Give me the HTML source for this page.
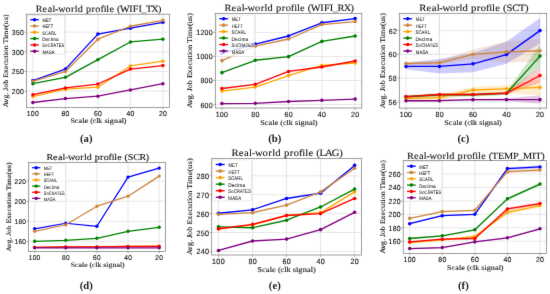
<!DOCTYPE html>
<html><head><meta charset="utf-8"><title>Real-world profiles</title>
<style>
html,body{margin:0;padding:0;background:#fff;}
body{width:550px;height:294px;overflow:hidden;}
svg{display:block;text-rendering:geometricPrecision;}
.s{font-family:"Liberation Serif",serif;fill:#111;stroke:#111;stroke-width:0.1px;}
.t{font-family:"Liberation Sans",sans-serif;fill:#111;stroke:#111;stroke-width:0.12px;}
.l{font-family:"Liberation Sans",sans-serif;fill:#111;stroke:#444;stroke-width:0.06px;}
.c{font-family:"Liberation Serif",serif;font-weight:bold;fill:#1a1a1a;}
</style></head><body>
<svg width="550" height="294" viewBox="0 0 550 294">
<defs><filter id="soft" x="0" y="0" width="550" height="294" filterUnits="userSpaceOnUse" color-interpolation-filters="sRGB"><feConvolveMatrix order="3" kernelMatrix="0.00524 0.06192 0.00524 0.06192 0.73137 0.06192 0.00524 0.06192 0.00524" edgeMode="duplicate"/></filter></defs><g filter="url(#soft)">
<rect width="550" height="294" fill="#fff"/>
<path d="M32.9 14.2V107.4M65.4 14.2V107.4M97.9 14.2V107.4M130.4 14.2V107.4M162.9 14.2V107.4M26.4 91.1H169.4M26.4 71.45H169.4M26.4 51.8H169.4M26.4 32.15H169.4" stroke="#e0e0e0" stroke-width="0.8" fill="none"/>
<path d="M32.9 80.49 L65.4 69.09 L97.9 34.11 L130.4 28.22 L162.9 22.32" stroke="#0000ff" stroke-width="1.3" fill="none" stroke-linejoin="round"/>
<circle cx="32.9" cy="80.49" r="1.75" fill="#0000ff"/><circle cx="65.4" cy="69.09" r="1.75" fill="#0000ff"/><circle cx="97.9" cy="34.11" r="1.75" fill="#0000ff"/><circle cx="130.4" cy="28.22" r="1.75" fill="#0000ff"/><circle cx="162.9" cy="22.32" r="1.75" fill="#0000ff"/>
<path d="M32.9 81.27 L65.4 71.45 L97.9 39.22 L130.4 26.25 L162.9 20.36" stroke="#cd853f" stroke-width="1.3" fill="none" stroke-linejoin="round"/>
<circle cx="32.9" cy="81.27" r="1.75" fill="#cd853f"/><circle cx="65.4" cy="71.45" r="1.75" fill="#cd853f"/><circle cx="97.9" cy="39.22" r="1.75" fill="#cd853f"/><circle cx="130.4" cy="26.25" r="1.75" fill="#cd853f"/><circle cx="162.9" cy="20.36" r="1.75" fill="#cd853f"/>
<path d="M32.9 96.6 L65.4 89.13 L97.9 87.17 L130.4 65.95 L162.9 61.23" stroke="#ffa500" stroke-width="1.3" fill="none" stroke-linejoin="round"/>
<circle cx="32.9" cy="96.6" r="1.75" fill="#ffa500"/><circle cx="65.4" cy="89.13" r="1.75" fill="#ffa500"/><circle cx="97.9" cy="87.17" r="1.75" fill="#ffa500"/><circle cx="130.4" cy="65.95" r="1.75" fill="#ffa500"/><circle cx="162.9" cy="61.23" r="1.75" fill="#ffa500"/>
<path d="M32.9 83.63 L65.4 77.34 L97.9 59.66 L130.4 41.97 L162.9 39.22" stroke="#008000" stroke-width="1.3" fill="none" stroke-linejoin="round"/>
<circle cx="32.9" cy="83.63" r="1.75" fill="#008000"/><circle cx="65.4" cy="77.34" r="1.75" fill="#008000"/><circle cx="97.9" cy="59.66" r="1.75" fill="#008000"/><circle cx="130.4" cy="41.97" r="1.75" fill="#008000"/><circle cx="162.9" cy="39.22" r="1.75" fill="#008000"/>
<path d="M32.9 94.64 L65.4 87.96 L97.9 84.03 L130.4 69.09 L162.9 65.55" stroke="#ff0000" stroke-width="1.3" fill="none" stroke-linejoin="round"/>
<circle cx="32.9" cy="94.64" r="1.75" fill="#ff0000"/><circle cx="65.4" cy="87.96" r="1.75" fill="#ff0000"/><circle cx="97.9" cy="84.03" r="1.75" fill="#ff0000"/><circle cx="130.4" cy="69.09" r="1.75" fill="#ff0000"/><circle cx="162.9" cy="65.55" r="1.75" fill="#ff0000"/>
<path d="M32.9 102.5 L65.4 98.57 L97.9 96.21 L130.4 89.92 L162.9 83.63" stroke="#800080" stroke-width="1.3" fill="none" stroke-linejoin="round"/>
<circle cx="32.9" cy="102.5" r="1.75" fill="#800080"/><circle cx="65.4" cy="98.57" r="1.75" fill="#800080"/><circle cx="97.9" cy="96.21" r="1.75" fill="#800080"/><circle cx="130.4" cy="89.92" r="1.75" fill="#800080"/><circle cx="162.9" cy="83.63" r="1.75" fill="#800080"/>
<rect x="26.4" y="14.2" width="143" height="93.2" fill="none" stroke="#777" stroke-width="0.7"/>
<path d="M32.9 107.4v1.88M65.4 107.4v1.88M97.9 107.4v1.88M130.4 107.4v1.88M162.9 107.4v1.88M26.4 91.1h-1.88M26.4 71.45h-1.88M26.4 51.8h-1.88M26.4 32.15h-1.88" stroke="#777" stroke-width="0.6" fill="none"/>
<text transform="translate(26.61 115.79) scale(0.933 1)" x="0.15 4.54 8.93" y="0" font-size="7.34" class="t">100</text>
<text transform="translate(61.3 115.79) scale(0.933 1)" x="0.15 4.54" y="0" font-size="7.34" class="t">80</text>
<text transform="translate(93.79 115.79) scale(0.933 1)" x="0.15 4.54" y="0" font-size="7.34" class="t">60</text>
<text transform="translate(126.36 115.79) scale(0.933 1)" x="0.15 4.54" y="0" font-size="7.34" class="t">40</text>
<text transform="translate(158.78 115.79) scale(0.933 1)" x="0.15 4.54" y="0" font-size="7.34" class="t">20</text>
<text transform="translate(11.74 94.05) scale(0.933 1)" x="0.15 4.54 8.93" y="0" font-size="7.34" class="t">200</text>
<text transform="translate(11.74 74.4) scale(0.933 1)" x="0.15 4.54 8.93" y="0" font-size="7.34" class="t">250</text>
<text transform="translate(11.74 54.75) scale(0.933 1)" x="0.15 4.54 8.93" y="0" font-size="7.34" class="t">300</text>
<text transform="translate(11.74 35.1) scale(0.933 1)" x="0.15 4.54 8.93" y="0" font-size="7.34" class="t">350</text>
<text transform="translate(35.83 11.8) scale(1.078 1)" x="-0.15 6.26 10.99 15.42 17.78 20.69 27.55 32.64 36.07 38.85 43.84 46.48 51.72 55.23 59.89 62.9 65.44 68.29 72.83 75.25 78.02 86.57 89.85 95.24 98.01 102.14 107.1 113.33" y="0" font-size="9.45" class="s">Real-world profile (WIFI_TX)</text>
<text transform="translate(70.46 123.1) scale(1.138 1)" x="-0.03 3.89 7.16 10.34 12.34 15.6 17.31 19.6 22.68 24.51 28.01 29.87 32.63 34.56 38.19 41.9 45.08 46.89" y="0" font-size="7.08" class="s">Scale (clk signal)</text>
<g transform="translate(7.92 60.8) rotate(-90)"><text transform="translate(-45.85 0) scale(1.101 1)" x="-0.45 3.87 7.4 11.08 12.94 14.55 17.1 20.73 24.42 26.21 30.38 33.96 37.33 40.66 44.51 46.62 48.53 52.17 55.87 57.48 61.54 63.48 69.17 72.44 74.87 78.65 81.49" y="0" font-size="7.08" class="s">Avg. Job Execution Time(us)</text></g>
<text x="86.3" y="141.6" font-size="10.7" text-anchor="middle" class="c">(a)</text>
<rect x="27.4" y="15.7" width="37" height="38.4" rx="0.8" fill="#fff" fill-opacity="0.8" stroke="#d6d6d6" stroke-width="0.5"/>
<path d="M30.26 19.7H38.85" stroke="#0000ff" stroke-width="1.3"/>
<circle cx="34.56" cy="19.7" r="1.75" fill="#0000ff"/>
<text transform="translate(42.29 22.16) scale(0.811 1)" x="0.17 4.55 7.98" y="0" font-size="5.07" class="l">MET</text>
<path d="M30.26 26H38.85" stroke="#cd853f" stroke-width="1.3"/>
<circle cx="34.56" cy="26" r="1.75" fill="#cd853f"/>
<text transform="translate(42.29 28.46) scale(0.795 1)" x="0.2 4.08 7.48 10.58" y="0" font-size="5.07" class="l">HEFT</text>
<path d="M30.26 32.3H38.85" stroke="#ffa500" stroke-width="1.3"/>
<circle cx="34.56" cy="32.3" r="1.75" fill="#ffa500"/>
<text transform="translate(42.29 34.76) scale(0.798 1)" x="0.02 3.47 7.33 10.9 14.69" y="0" font-size="5.07" class="l">SCARL</text>
<path d="M30.26 38.6H38.85" stroke="#008000" stroke-width="1.3"/>
<circle cx="34.56" cy="38.6" r="1.75" fill="#008000"/>
<text transform="translate(42.29 41.06) scale(0.912 1)" x="-0.02 3.66 6.55 9.2 10.6 15.04" y="0" font-size="5.07" class="l">Decima</text>
<path d="M30.26 44.9H38.85" stroke="#ff0000" stroke-width="1.3"/>
<circle cx="34.56" cy="44.9" r="1.75" fill="#ff0000"/>
<text transform="translate(42.29 47.36) scale(0.783 1)" x="0.05 3.75 6.92 10.73 14.43 17.7 20.96 24.43" y="0" font-size="5.07" class="l">SoCRATES</text>
<path d="M30.26 51.2H38.85" stroke="#800080" stroke-width="1.3"/>
<circle cx="34.56" cy="51.2" r="1.75" fill="#800080"/>
<text transform="translate(42.29 53.66) scale(0.828 1)" x="0.13 4.56 7.98 11.49" y="0" font-size="5.07" class="l">MASA</text>
<path d="M221.96 13.4V108M255.25 13.4V108M288.55 13.4V108M321.85 13.4V108M355.14 13.4V108M215.3 104.5H361.8M215.3 80.46H361.8M215.3 56.42H361.8M215.3 32.38H361.8" stroke="#e0e0e0" stroke-width="0.8" fill="none"/>
<path d="M221.96 53.41 L255.25 44.04 L288.55 35.99 L321.85 22.76 L355.14 18.56" stroke="#0000ff" stroke-width="1.33" fill="none" stroke-linejoin="round"/>
<circle cx="221.96" cy="53.41" r="1.79" fill="#0000ff"/><circle cx="255.25" cy="44.04" r="1.79" fill="#0000ff"/><circle cx="288.55" cy="35.99" r="1.79" fill="#0000ff"/><circle cx="321.85" cy="22.76" r="1.79" fill="#0000ff"/><circle cx="355.14" cy="18.56" r="1.79" fill="#0000ff"/>
<path d="M221.96 60.63 L255.25 46.2 L288.55 38.99 L321.85 24.57 L355.14 21.56" stroke="#cd853f" stroke-width="1.33" fill="none" stroke-linejoin="round"/>
<circle cx="221.96" cy="60.63" r="1.79" fill="#cd853f"/><circle cx="255.25" cy="46.2" r="1.79" fill="#cd853f"/><circle cx="288.55" cy="38.99" r="1.79" fill="#cd853f"/><circle cx="321.85" cy="24.57" r="1.79" fill="#cd853f"/><circle cx="355.14" cy="21.56" r="1.79" fill="#cd853f"/>
<path d="M221.96 91.04 L255.25 87.07 L288.55 75.65 L321.85 65.44 L355.14 63.03" stroke="#ffa500" stroke-width="1.33" fill="none" stroke-linejoin="round"/>
<circle cx="221.96" cy="91.04" r="1.79" fill="#ffa500"/><circle cx="255.25" cy="87.07" r="1.79" fill="#ffa500"/><circle cx="288.55" cy="75.65" r="1.79" fill="#ffa500"/><circle cx="321.85" cy="65.44" r="1.79" fill="#ffa500"/><circle cx="355.14" cy="63.03" r="1.79" fill="#ffa500"/>
<path d="M221.96 72.65 L255.25 60.27 L288.55 56.66 L321.85 41.39 L355.14 35.99" stroke="#008000" stroke-width="1.33" fill="none" stroke-linejoin="round"/>
<circle cx="221.96" cy="72.65" r="1.79" fill="#008000"/><circle cx="255.25" cy="60.27" r="1.79" fill="#008000"/><circle cx="288.55" cy="56.66" r="1.79" fill="#008000"/><circle cx="321.85" cy="41.39" r="1.79" fill="#008000"/><circle cx="355.14" cy="35.99" r="1.79" fill="#008000"/>
<path d="M221.96 88.51 L255.25 84.31 L288.55 71.44 L321.85 67 L355.14 60.99" stroke="#ff0000" stroke-width="1.33" fill="none" stroke-linejoin="round"/>
<circle cx="221.96" cy="88.51" r="1.79" fill="#ff0000"/><circle cx="255.25" cy="84.31" r="1.79" fill="#ff0000"/><circle cx="288.55" cy="71.44" r="1.79" fill="#ff0000"/><circle cx="321.85" cy="67" r="1.79" fill="#ff0000"/><circle cx="355.14" cy="60.99" r="1.79" fill="#ff0000"/>
<path d="M221.96 103.54 L255.25 103.3 L288.55 101.5 L321.85 100.29 L355.14 99.09" stroke="#800080" stroke-width="1.33" fill="none" stroke-linejoin="round"/>
<circle cx="221.96" cy="103.54" r="1.79" fill="#800080"/><circle cx="255.25" cy="103.3" r="1.79" fill="#800080"/><circle cx="288.55" cy="101.5" r="1.79" fill="#800080"/><circle cx="321.85" cy="100.29" r="1.79" fill="#800080"/><circle cx="355.14" cy="99.09" r="1.79" fill="#800080"/>
<rect x="215.3" y="13.4" width="146.5" height="94.6" fill="none" stroke="#777" stroke-width="0.7"/>
<path d="M221.96 108v1.92M255.25 108v1.92M288.55 108v1.92M321.85 108v1.92M355.14 108v1.92M215.3 104.5h-1.92M215.3 80.46h-1.92M215.3 56.42h-1.92M215.3 32.38h-1.92" stroke="#777" stroke-width="0.6" fill="none"/>
<text transform="translate(215.53 116.59) scale(0.933 1)" x="0.16 4.65 9.14" y="0" font-size="7.51" class="t">100</text>
<text transform="translate(251.06 116.59) scale(0.933 1)" x="0.16 4.65" y="0" font-size="7.51" class="t">80</text>
<text transform="translate(284.35 116.59) scale(0.933 1)" x="0.16 4.65" y="0" font-size="7.51" class="t">60</text>
<text transform="translate(317.71 116.59) scale(0.933 1)" x="0.16 4.65" y="0" font-size="7.51" class="t">40</text>
<text transform="translate(350.93 116.59) scale(0.933 1)" x="0.16 4.65" y="0" font-size="7.51" class="t">20</text>
<text transform="translate(200.29 107.5) scale(0.933 1)" x="0.16 4.65 9.14" y="0" font-size="7.51" class="t">600</text>
<text transform="translate(200.29 83.46) scale(0.933 1)" x="0.16 4.65 9.14" y="0" font-size="7.51" class="t">800</text>
<text transform="translate(196.1 59.42) scale(0.933 1)" x="0.16 4.65 9.14 13.64" y="0" font-size="7.51" class="t">1000</text>
<text transform="translate(196.1 35.38) scale(0.933 1)" x="0.16 4.65 9.14 13.64" y="0" font-size="7.51" class="t">1200</text>
<text transform="translate(224.72 10.5) scale(1.080 1)" x="-0.16 6.39 11.22 15.75 18.16 21.14 28.15 33.35 36.86 39.7 44.8 47.49 52.85 56.44 61.2 64.28 66.88 69.79 74.42 76.9 79.72 88.46 91.82 97.33 100.16 104.45 110.15 116.51" y="0" font-size="9.67" class="s">Real-world profile (WIFI_RX)</text>
<text transform="translate(260.21 124.5) scale(1.138 1)" x="-0.03 3.98 7.33 10.58 12.62 15.96 17.71 20.06 23.21 25.09 28.67 30.57 33.39 35.36 39.08 42.87 46.13 47.98" y="0" font-size="7.25" class="s">Scale (clk signal)</text>
<g transform="translate(192.2 60.7) rotate(-90)"><text transform="translate(-46.92 0) scale(1.101 1)" x="-0.46 3.96 7.57 11.34 13.25 14.89 17.49 21.21 24.99 26.82 31.09 34.76 38.2 41.61 45.54 47.7 49.66 53.39 57.17 58.81 62.98 64.96 70.78 74.12 76.61 80.48 83.39" y="0" font-size="7.25" class="s">Avg. Job Execution Time(us)</text></g>
<text x="274.8" y="141.6" font-size="10.7" text-anchor="middle" class="c">(b)</text>
<rect x="216.4" y="15.2" width="37.9" height="41.3" rx="0.8" fill="#fff" fill-opacity="0.8" stroke="#d6d6d6" stroke-width="0.5"/>
<path d="M219.25 18.7H228.04" stroke="#0000ff" stroke-width="1.33"/>
<circle cx="223.65" cy="18.7" r="1.79" fill="#0000ff"/>
<text transform="translate(231.56 21.2) scale(0.811 1)" x="0.18 4.65 8.16" y="0" font-size="5.18" class="l">MET</text>
<path d="M219.25 25.16H228.04" stroke="#cd853f" stroke-width="1.33"/>
<circle cx="223.65" cy="25.16" r="1.79" fill="#cd853f"/>
<text transform="translate(231.56 27.66) scale(0.795 1)" x="0.21 4.17 7.65 10.83" y="0" font-size="5.18" class="l">HEFT</text>
<path d="M219.25 31.62H228.04" stroke="#ffa500" stroke-width="1.33"/>
<circle cx="223.65" cy="31.62" r="1.79" fill="#ffa500"/>
<text transform="translate(231.56 34.12) scale(0.798 1)" x="0.02 3.55 7.5 11.15 15.03" y="0" font-size="5.18" class="l">SCARL</text>
<path d="M219.25 38.08H228.04" stroke="#008000" stroke-width="1.33"/>
<circle cx="223.65" cy="38.08" r="1.79" fill="#008000"/>
<text transform="translate(231.56 40.58) scale(0.912 1)" x="-0.02 3.75 6.7 9.41 10.85 15.39" y="0" font-size="5.18" class="l">Decima</text>
<path d="M219.25 44.54H228.04" stroke="#ff0000" stroke-width="1.33"/>
<circle cx="223.65" cy="44.54" r="1.79" fill="#ff0000"/>
<text transform="translate(231.56 47.04) scale(0.783 1)" x="0.05 3.83 7.08 10.98 14.77 18.11 21.45 25" y="0" font-size="5.18" class="l">SoCRATES</text>
<path d="M219.25 51H228.04" stroke="#800080" stroke-width="1.33"/>
<circle cx="223.65" cy="51" r="1.79" fill="#800080"/>
<text transform="translate(231.56 53.5) scale(0.828 1)" x="0.13 4.66 8.16 11.76" y="0" font-size="5.18" class="l">MASA</text>
<path d="M406 13.3V108.1M439.5 13.3V108.1M473 13.3V108.1M506.5 13.3V108.1M540 13.3V108.1M399.3 101.9H546.7M399.3 78.1H546.7M399.3 54.3H546.7M399.3 30.5H546.7" stroke="#e0e0e0" stroke-width="0.8" fill="none"/>
<path d="M406 62.63 L439.5 59.06 L473 53.11 L506.5 41.69 L540 17.89 L540 43.59 L506.5 63.82 L473 72.15 L439.5 73.46 L406 69.29Z" fill="#0000ff" fill-opacity="0.2"/>
<path d="M406 62.03 L439.5 60.25 L473 49.54 L506.5 41.21 L540 38.83 L540 61.44 L506.5 62.63 L473 59.06 L439.5 65.01 L406 65.01Z" fill="#cd853f" fill-opacity="0.2"/>
<path d="M406 96.54 L439.5 94.17 L473 87.03 L506.5 85.24 L540 79.29 L540 94.76 L506.5 93.57 L473 93.57 L439.5 100.71 L406 100.12Z" fill="#ffa500" fill-opacity="0.2"/>
<path d="M406 95.36 L439.5 92.98 L473 92.98 L506.5 91.78 L540 44.78 L540 67.39 L506.5 94.76 L473 96.54 L439.5 96.54 L406 98.33Z" fill="#008000" fill-opacity="0.2"/>
<path d="M406 95.95 L439.5 93.57 L473 93.57 L506.5 91.78 L540 67.39 L540 82.86 L506.5 94.76 L473 95.95 L439.5 95.95 L406 98.33Z" fill="#ff0000" fill-opacity="0.2"/>
<path d="M406 100.12 L439.5 100.12 L473 98.93 L506.5 98.33 L540 95.36 L540 103.68 L506.5 100.71 L473 100.71 L439.5 101.31 L406 101.31Z" fill="#800080" fill-opacity="0.2"/>
<path d="M406 66.44 L439.5 66.44 L473 63.82 L506.5 54.54 L540 30.62" stroke="#0000ff" stroke-width="1.33" fill="none" stroke-linejoin="round"/>
<circle cx="406" cy="66.44" r="1.8" fill="#0000ff"/><circle cx="439.5" cy="66.44" r="1.8" fill="#0000ff"/><circle cx="473" cy="63.82" r="1.8" fill="#0000ff"/><circle cx="506.5" cy="54.54" r="1.8" fill="#0000ff"/><circle cx="540" cy="30.62" r="1.8" fill="#0000ff"/>
<path d="M406 63.58 L439.5 62.75 L473 54.3 L506.5 51.92 L540 50.73" stroke="#cd853f" stroke-width="1.33" fill="none" stroke-linejoin="round"/>
<circle cx="406" cy="63.58" r="1.8" fill="#cd853f"/><circle cx="439.5" cy="62.75" r="1.8" fill="#cd853f"/><circle cx="473" cy="54.3" r="1.8" fill="#cd853f"/><circle cx="506.5" cy="51.92" r="1.8" fill="#cd853f"/><circle cx="540" cy="50.73" r="1.8" fill="#cd853f"/>
<path d="M406 98.57 L439.5 97.62 L473 90 L506.5 88.81 L540 87.38" stroke="#ffa500" stroke-width="1.33" fill="none" stroke-linejoin="round"/>
<circle cx="406" cy="98.57" r="1.8" fill="#ffa500"/><circle cx="439.5" cy="97.62" r="1.8" fill="#ffa500"/><circle cx="473" cy="90" r="1.8" fill="#ffa500"/><circle cx="506.5" cy="88.81" r="1.8" fill="#ffa500"/><circle cx="540" cy="87.38" r="1.8" fill="#ffa500"/>
<path d="M406 96.78 L439.5 94.76 L473 94.76 L506.5 93.33 L540 56.08" stroke="#008000" stroke-width="1.33" fill="none" stroke-linejoin="round"/>
<circle cx="406" cy="96.78" r="1.8" fill="#008000"/><circle cx="439.5" cy="94.76" r="1.8" fill="#008000"/><circle cx="473" cy="94.76" r="1.8" fill="#008000"/><circle cx="506.5" cy="93.33" r="1.8" fill="#008000"/><circle cx="540" cy="56.08" r="1.8" fill="#008000"/>
<path d="M406 96.54 L439.5 94.52 L473 94.52 L506.5 93.21 L540 75.48" stroke="#ff0000" stroke-width="1.33" fill="none" stroke-linejoin="round"/>
<circle cx="406" cy="96.54" r="1.8" fill="#ff0000"/><circle cx="439.5" cy="94.52" r="1.8" fill="#ff0000"/><circle cx="473" cy="94.52" r="1.8" fill="#ff0000"/><circle cx="506.5" cy="93.21" r="1.8" fill="#ff0000"/><circle cx="540" cy="75.48" r="1.8" fill="#ff0000"/>
<path d="M406 100.71 L439.5 100.71 L473 99.64 L506.5 99.64 L540 99.64" stroke="#800080" stroke-width="1.33" fill="none" stroke-linejoin="round"/>
<circle cx="406" cy="100.71" r="1.8" fill="#800080"/><circle cx="439.5" cy="100.71" r="1.8" fill="#800080"/><circle cx="473" cy="99.64" r="1.8" fill="#800080"/><circle cx="506.5" cy="99.64" r="1.8" fill="#800080"/><circle cx="540" cy="99.64" r="1.8" fill="#800080"/>
<rect x="399.3" y="13.3" width="147.4" height="94.8" fill="none" stroke="#777" stroke-width="0.7"/>
<path d="M406 108.1v1.93M439.5 108.1v1.93M473 108.1v1.93M506.5 108.1v1.93M540 108.1v1.93M399.3 101.9h-1.93M399.3 78.1h-1.93M399.3 54.3h-1.93M399.3 30.5h-1.93" stroke="#777" stroke-width="0.6" fill="none"/>
<text transform="translate(399.55 116.72) scale(0.933 1)" x="0.16 4.66 9.17" y="0" font-size="7.54" class="t">100</text>
<text transform="translate(435.29 116.72) scale(0.933 1)" x="0.16 4.66" y="0" font-size="7.54" class="t">80</text>
<text transform="translate(468.78 116.72) scale(0.933 1)" x="0.16 4.66" y="0" font-size="7.54" class="t">60</text>
<text transform="translate(502.35 116.72) scale(0.933 1)" x="0.16 4.66" y="0" font-size="7.54" class="t">40</text>
<text transform="translate(535.77 116.72) scale(0.933 1)" x="0.16 4.66" y="0" font-size="7.54" class="t">20</text>
<text transform="translate(388.43 104.91) scale(0.933 1)" x="0.16 4.66" y="0" font-size="7.54" class="t">56</text>
<text transform="translate(388.47 81.11) scale(0.933 1)" x="0.16 4.66" y="0" font-size="7.54" class="t">58</text>
<text transform="translate(388.45 57.31) scale(0.933 1)" x="0.16 4.66" y="0" font-size="7.54" class="t">60</text>
<text transform="translate(388.68 33.51) scale(0.933 1)" x="0.16 4.66" y="0" font-size="7.54" class="t">62</text>
<text transform="translate(419.61 10.6) scale(1.105 1)" x="-0.23 6.22 10.96 15.42 17.77 20.65 27.54 32.66 36.11 38.86 43.9 46.51 51.78 55.28 59.97 62.99 65.54 68.37 72.94 75.36 78.57 83.82 89.8 95.37" y="0" font-size="9.69" class="s">Real-world profile (SCT)</text>
<text transform="translate(444.27 124.9) scale(1.138 1)" x="-0.03 3.99 7.35 10.62 12.66 16.01 17.76 20.12 23.28 25.16 28.75 30.66 33.49 35.47 39.2 43 46.27 48.13" y="0" font-size="7.27" class="s">Scale (clk signal)</text>
<g transform="translate(384.53 60.7) rotate(-90)"><text transform="translate(-47.06 0) scale(1.101 1)" x="-0.46 3.97 7.59 11.38 13.29 14.94 17.55 21.28 25.06 26.9 31.19 34.86 38.32 41.73 45.68 47.85 49.81 53.55 57.35 58.99 63.17 65.16 71 74.35 76.85 80.72 83.64" y="0" font-size="7.27" class="s">Avg. Job Execution Time(us)</text></g>
<text x="463.4" y="141.6" font-size="10.7" text-anchor="middle" class="c">(c)</text>
<rect x="400.7" y="15.1" width="38.3" height="38.9" rx="0.8" fill="#fff" fill-opacity="0.8" stroke="#d6d6d6" stroke-width="0.5"/>
<path d="M403.27 18.7H412.08" stroke="#0000ff" stroke-width="1.33"/>
<circle cx="407.67" cy="18.7" r="1.8" fill="#0000ff"/>
<text transform="translate(415.6 21.21) scale(0.811 1)" x="0.18 4.67 8.19" y="0" font-size="5.2" class="l">MET</text>
<path d="M403.27 25.16H412.08" stroke="#cd853f" stroke-width="1.33"/>
<circle cx="407.67" cy="25.16" r="1.8" fill="#cd853f"/>
<text transform="translate(415.6 27.67) scale(0.795 1)" x="0.21 4.18 7.67 10.86" y="0" font-size="5.2" class="l">HEFT</text>
<path d="M403.27 31.62H412.08" stroke="#ffa500" stroke-width="1.33"/>
<circle cx="407.67" cy="31.62" r="1.8" fill="#ffa500"/>
<text transform="translate(415.6 34.13) scale(0.798 1)" x="0.02 3.56 7.52 11.19 15.08" y="0" font-size="5.2" class="l">SCARL</text>
<path d="M403.27 38.08H412.08" stroke="#008000" stroke-width="1.33"/>
<circle cx="407.67" cy="38.08" r="1.8" fill="#008000"/>
<text transform="translate(415.6 40.59) scale(0.912 1)" x="-0.02 3.76 6.72 9.44 10.88 15.43" y="0" font-size="5.2" class="l">Decima</text>
<path d="M403.27 44.54H412.08" stroke="#ff0000" stroke-width="1.33"/>
<circle cx="407.67" cy="44.54" r="1.8" fill="#ff0000"/>
<text transform="translate(415.6 47.05) scale(0.783 1)" x="0.05 3.85 7.1 11.02 14.81 18.16 21.51 25.08" y="0" font-size="5.2" class="l">SoCRATES</text>
<path d="M403.27 51H412.08" stroke="#800080" stroke-width="1.33"/>
<circle cx="407.67" cy="51" r="1.8" fill="#800080"/>
<text transform="translate(415.6 53.51) scale(0.828 1)" x="0.13 4.68 8.19 11.8" y="0" font-size="5.2" class="l">MASA</text>
<path d="M34.63 162.6V251.5M65.76 162.6V251.5M96.9 162.6V251.5M128.04 162.6V251.5M159.17 162.6V251.5M28.4 241.3H165.4M28.4 221.24H165.4M28.4 201.18H165.4M28.4 181.12H165.4" stroke="#e0e0e0" stroke-width="0.8" fill="none"/>
<path d="M34.63 228.76 L65.76 223.25 L96.9 226.26 L128.04 177.11 L159.17 168.08" stroke="#0000ff" stroke-width="1.25" fill="none" stroke-linejoin="round"/>
<circle cx="34.63" cy="228.76" r="1.68" fill="#0000ff"/><circle cx="65.76" cy="223.25" r="1.68" fill="#0000ff"/><circle cx="96.9" cy="226.26" r="1.68" fill="#0000ff"/><circle cx="128.04" cy="177.11" r="1.68" fill="#0000ff"/><circle cx="159.17" cy="168.08" r="1.68" fill="#0000ff"/>
<path d="M34.63 231.27 L65.76 224.75 L96.9 206.2 L128.04 196.17 L159.17 176.11" stroke="#cd853f" stroke-width="1.25" fill="none" stroke-linejoin="round"/>
<circle cx="34.63" cy="231.27" r="1.68" fill="#cd853f"/><circle cx="65.76" cy="224.75" r="1.68" fill="#cd853f"/><circle cx="96.9" cy="206.2" r="1.68" fill="#cd853f"/><circle cx="128.04" cy="196.17" r="1.68" fill="#cd853f"/><circle cx="159.17" cy="176.11" r="1.68" fill="#cd853f"/>
<path d="M34.63 247.32 L65.76 246.82 L96.9 246.82 L128.04 246.31 L159.17 246.01" stroke="#ffa500" stroke-width="1.25" fill="none" stroke-linejoin="round"/>
<circle cx="34.63" cy="247.32" r="1.68" fill="#ffa500"/><circle cx="65.76" cy="246.82" r="1.68" fill="#ffa500"/><circle cx="96.9" cy="246.82" r="1.68" fill="#ffa500"/><circle cx="128.04" cy="246.31" r="1.68" fill="#ffa500"/><circle cx="159.17" cy="246.01" r="1.68" fill="#ffa500"/>
<path d="M34.63 241.3 L65.76 240.3 L96.9 238.29 L128.04 231.27 L159.17 227.26" stroke="#008000" stroke-width="1.25" fill="none" stroke-linejoin="round"/>
<circle cx="34.63" cy="241.3" r="1.68" fill="#008000"/><circle cx="65.76" cy="240.3" r="1.68" fill="#008000"/><circle cx="96.9" cy="238.29" r="1.68" fill="#008000"/><circle cx="128.04" cy="231.27" r="1.68" fill="#008000"/><circle cx="159.17" cy="227.26" r="1.68" fill="#008000"/>
<path d="M34.63 247.32 L65.76 246.82 L96.9 246.82 L128.04 246.31 L159.17 246.31" stroke="#ff0000" stroke-width="1.25" fill="none" stroke-linejoin="round"/>
<circle cx="34.63" cy="247.32" r="1.68" fill="#ff0000"/><circle cx="65.76" cy="246.82" r="1.68" fill="#ff0000"/><circle cx="96.9" cy="246.82" r="1.68" fill="#ff0000"/><circle cx="128.04" cy="246.31" r="1.68" fill="#ff0000"/><circle cx="159.17" cy="246.31" r="1.68" fill="#ff0000"/>
<path d="M34.63 247.82 L65.76 247.82 L96.9 247.82 L128.04 247.82 L159.17 247.82" stroke="#800080" stroke-width="1.25" fill="none" stroke-linejoin="round"/>
<circle cx="34.63" cy="247.82" r="1.68" fill="#800080"/><circle cx="65.76" cy="247.82" r="1.68" fill="#800080"/><circle cx="96.9" cy="247.82" r="1.68" fill="#800080"/><circle cx="128.04" cy="247.82" r="1.68" fill="#800080"/><circle cx="159.17" cy="247.82" r="1.68" fill="#800080"/>
<rect x="28.4" y="162.6" width="137" height="88.9" fill="none" stroke="#777" stroke-width="0.7"/>
<path d="M34.63 251.5v1.8M65.76 251.5v1.8M96.9 251.5v1.8M128.04 251.5v1.8M159.17 251.5v1.8M28.4 241.3h-1.8M28.4 221.24h-1.8M28.4 201.18h-1.8M28.4 181.12h-1.8" stroke="#777" stroke-width="0.6" fill="none"/>
<text transform="translate(28.6 259.56) scale(0.933 1)" x="0.15 4.36 8.57" y="0" font-size="7.05" class="t">100</text>
<text transform="translate(61.83 259.56) scale(0.933 1)" x="0.15 4.36" y="0" font-size="7.05" class="t">80</text>
<text transform="translate(92.96 259.56) scale(0.933 1)" x="0.15 4.36" y="0" font-size="7.05" class="t">60</text>
<text transform="translate(124.16 259.56) scale(0.933 1)" x="0.15 4.36" y="0" font-size="7.05" class="t">40</text>
<text transform="translate(155.22 259.56) scale(0.933 1)" x="0.15 4.36" y="0" font-size="7.05" class="t">20</text>
<text transform="translate(14.33 244.15) scale(0.933 1)" x="0.15 4.36 8.57" y="0" font-size="7.05" class="t">160</text>
<text transform="translate(14.33 224.09) scale(0.933 1)" x="0.15 4.36 8.57" y="0" font-size="7.05" class="t">180</text>
<text transform="translate(14.33 204.03) scale(0.933 1)" x="0.15 4.36 8.57" y="0" font-size="7.05" class="t">200</text>
<text transform="translate(14.33 183.97) scale(0.933 1)" x="0.15 4.36 8.57" y="0" font-size="7.05" class="t">220</text>
<text transform="translate(46.65 160.3) scale(1.106 1)" x="-0.22 5.8 10.23 14.39 16.59 19.27 25.71 30.49 33.71 36.28 40.98 43.42 48.34 51.6 55.98 58.8 61.19 63.83 68.09 70.36 73.35 78.25 83.9 89.67" y="0" font-size="9.06" class="s">Real-world profile (SCR)</text>
<text transform="translate(70.69 267.3) scale(1.138 1)" x="-0.03 3.73 6.87 9.93 11.84 14.97 16.61 18.81 21.77 23.52 26.88 28.67 31.31 33.16 36.65 40.21 43.26 45" y="0" font-size="6.8" class="s">Scale (clk signal)</text>
<g transform="translate(10.66 207.05) rotate(-90)"><text transform="translate(-44 0) scale(1.101 1)" x="-0.43 3.71 7.1 10.64 12.42 13.97 16.41 19.89 23.43 25.15 29.16 32.59 35.83 39.02 42.71 44.74 46.57 50.07 53.62 55.16 59.06 60.92 66.38 69.51 71.85 75.47 78.2" y="0" font-size="6.8" class="s">Avg. Job Execution Time(us)</text></g>
<text x="86.3" y="289.2" font-size="10.7" text-anchor="middle" class="c">(d)</text>
<rect x="29.3" y="163.7" width="36.4" height="37.6" rx="0.8" fill="#fff" fill-opacity="0.8" stroke="#d6d6d6" stroke-width="0.5"/>
<path d="M32.11 167.7H40.35" stroke="#0000ff" stroke-width="1.25"/>
<circle cx="36.23" cy="167.7" r="1.68" fill="#0000ff"/>
<text transform="translate(43.64 170.1) scale(0.811 1)" x="0.17 4.36 7.65" y="0" font-size="4.86" class="l">MET</text>
<path d="M32.11 173.84H40.35" stroke="#cd853f" stroke-width="1.25"/>
<circle cx="36.23" cy="173.84" r="1.68" fill="#cd853f"/>
<text transform="translate(43.64 176.24) scale(0.795 1)" x="0.19 3.91 7.17 10.15" y="0" font-size="4.86" class="l">HEFT</text>
<path d="M32.11 179.98H40.35" stroke="#ffa500" stroke-width="1.25"/>
<circle cx="36.23" cy="179.98" r="1.68" fill="#ffa500"/>
<text transform="translate(43.64 182.38) scale(0.798 1)" x="0.02 3.33 7.03 10.46 14.1" y="0" font-size="4.86" class="l">SCARL</text>
<path d="M32.11 186.12H40.35" stroke="#008000" stroke-width="1.25"/>
<circle cx="36.23" cy="186.12" r="1.68" fill="#008000"/>
<text transform="translate(43.64 188.52) scale(0.912 1)" x="-0.02 3.52 6.28 8.83 10.17 14.43" y="0" font-size="4.86" class="l">Decima</text>
<path d="M32.11 192.26H40.35" stroke="#ff0000" stroke-width="1.25"/>
<circle cx="36.23" cy="192.26" r="1.68" fill="#ff0000"/>
<text transform="translate(43.64 194.66) scale(0.783 1)" x="0.05 3.6 6.64 10.3 13.85 16.98 20.11 23.44" y="0" font-size="4.86" class="l">SoCRATES</text>
<path d="M32.11 198.4H40.35" stroke="#800080" stroke-width="1.25"/>
<circle cx="36.23" cy="198.4" r="1.68" fill="#800080"/>
<text transform="translate(43.64 200.8) scale(0.828 1)" x="0.12 4.37 7.65 11.03" y="0" font-size="4.86" class="l">MASA</text>
<path d="M218.5 158.6V255M252.53 158.6V255M286.55 158.6V255M320.57 158.6V255M354.6 158.6V255M211.7 251.4H361.4M211.7 232.5H361.4M211.7 213.6H361.4M211.7 194.7H361.4M211.7 175.8H361.4" stroke="#e0e0e0" stroke-width="0.8" fill="none"/>
<path d="M218.5 213.22 L252.53 209.82 L286.55 198.48 L320.57 193.19 L354.6 165.41" stroke="#0000ff" stroke-width="1.35" fill="none" stroke-linejoin="round"/>
<circle cx="218.5" cy="213.22" r="1.82" fill="#0000ff"/><circle cx="252.53" cy="209.82" r="1.82" fill="#0000ff"/><circle cx="286.55" cy="198.48" r="1.82" fill="#0000ff"/><circle cx="320.57" cy="193.19" r="1.82" fill="#0000ff"/><circle cx="354.6" cy="165.41" r="1.82" fill="#0000ff"/>
<path d="M218.5 214.36 L252.53 212.66 L286.55 205.09 L320.57 191.87 L354.6 168.24" stroke="#cd853f" stroke-width="1.35" fill="none" stroke-linejoin="round"/>
<circle cx="218.5" cy="214.36" r="1.82" fill="#cd853f"/><circle cx="252.53" cy="212.66" r="1.82" fill="#cd853f"/><circle cx="286.55" cy="205.09" r="1.82" fill="#cd853f"/><circle cx="320.57" cy="191.87" r="1.82" fill="#cd853f"/><circle cx="354.6" cy="168.24" r="1.82" fill="#cd853f"/>
<path d="M218.5 229.1 L252.53 224.94 L286.55 215.49 L320.57 212.66 L354.6 191.87" stroke="#ffa500" stroke-width="1.35" fill="none" stroke-linejoin="round"/>
<circle cx="218.5" cy="229.1" r="1.82" fill="#ffa500"/><circle cx="252.53" cy="224.94" r="1.82" fill="#ffa500"/><circle cx="286.55" cy="215.49" r="1.82" fill="#ffa500"/><circle cx="320.57" cy="212.66" r="1.82" fill="#ffa500"/><circle cx="354.6" cy="191.87" r="1.82" fill="#ffa500"/>
<path d="M218.5 226.83 L252.53 227.78 L286.55 220.22 L320.57 206.99 L354.6 189.03" stroke="#008000" stroke-width="1.35" fill="none" stroke-linejoin="round"/>
<circle cx="218.5" cy="226.83" r="1.82" fill="#008000"/><circle cx="252.53" cy="227.78" r="1.82" fill="#008000"/><circle cx="286.55" cy="220.22" r="1.82" fill="#008000"/><circle cx="320.57" cy="206.99" r="1.82" fill="#008000"/><circle cx="354.6" cy="189.03" r="1.82" fill="#008000"/>
<path d="M218.5 228.72 L252.53 224.37 L286.55 215.49 L320.57 213.6 L354.6 198.48" stroke="#ff0000" stroke-width="1.35" fill="none" stroke-linejoin="round"/>
<circle cx="218.5" cy="228.72" r="1.82" fill="#ff0000"/><circle cx="252.53" cy="224.37" r="1.82" fill="#ff0000"/><circle cx="286.55" cy="215.49" r="1.82" fill="#ff0000"/><circle cx="320.57" cy="213.6" r="1.82" fill="#ff0000"/><circle cx="354.6" cy="198.48" r="1.82" fill="#ff0000"/>
<path d="M218.5 250.46 L252.53 241 L286.55 239.12 L320.57 229.67 L354.6 212.28" stroke="#800080" stroke-width="1.35" fill="none" stroke-linejoin="round"/>
<circle cx="218.5" cy="250.46" r="1.82" fill="#800080"/><circle cx="252.53" cy="241" r="1.82" fill="#800080"/><circle cx="286.55" cy="239.12" r="1.82" fill="#800080"/><circle cx="320.57" cy="229.67" r="1.82" fill="#800080"/><circle cx="354.6" cy="212.28" r="1.82" fill="#800080"/>
<rect x="211.7" y="158.6" width="149.7" height="96.4" fill="none" stroke="#777" stroke-width="0.7"/>
<path d="M218.5 255v1.96M252.53 255v1.96M286.55 255v1.96M320.57 255v1.96M354.6 255v1.96M211.7 251.4h-1.96M211.7 232.5h-1.96M211.7 213.6h-1.96M211.7 194.7h-1.96M211.7 175.8h-1.96" stroke="#777" stroke-width="0.6" fill="none"/>
<text transform="translate(211.96 263.75) scale(0.933 1)" x="0.16 4.73 9.31" y="0" font-size="7.65" class="t">100</text>
<text transform="translate(248.25 263.75) scale(0.933 1)" x="0.16 4.73" y="0" font-size="7.65" class="t">80</text>
<text transform="translate(282.27 263.75) scale(0.933 1)" x="0.16 4.73" y="0" font-size="7.65" class="t">60</text>
<text transform="translate(316.36 263.75) scale(0.933 1)" x="0.16 4.73" y="0" font-size="7.65" class="t">40</text>
<text transform="translate(350.3 263.75) scale(0.933 1)" x="0.16 4.73" y="0" font-size="7.65" class="t">20</text>
<text transform="translate(196.42 254.45) scale(0.933 1)" x="0.16 4.73 9.31" y="0" font-size="7.65" class="t">240</text>
<text transform="translate(196.42 235.55) scale(0.933 1)" x="0.16 4.73 9.31" y="0" font-size="7.65" class="t">250</text>
<text transform="translate(196.42 216.65) scale(0.933 1)" x="0.16 4.73 9.31" y="0" font-size="7.65" class="t">260</text>
<text transform="translate(196.42 197.75) scale(0.933 1)" x="0.16 4.73 9.31" y="0" font-size="7.65" class="t">270</text>
<text transform="translate(196.42 178.85) scale(0.933 1)" x="0.16 4.73 9.31" y="0" font-size="7.65" class="t">280</text>
<text transform="translate(231.71 155.8) scale(1.087 1)" x="-0.18 6.45 11.34 15.92 18.36 21.36 28.45 33.72 37.27 40.13 45.3 48.02 53.44 57.06 61.88 65 67.63 70.56 75.26 77.76 80.74 85.89 92.15 98.96" y="0" font-size="9.84" class="s">Real-world profile (LAG)</text>
<text transform="translate(257.39 272.2) scale(1.138 1)" x="-0.03 4.05 7.46 10.78 12.85 16.25 18.03 20.42 23.63 25.54 29.19 31.13 33.99 36 39.79 43.66 46.97 48.86" y="0" font-size="7.38" class="s">Scale (clk signal)</text>
<g transform="translate(192.44 206.8) rotate(-90)"><text transform="translate(-47.77 0) scale(1.101 1)" x="-0.46 4.03 7.71 11.55 13.49 15.16 17.81 21.6 25.44 27.31 31.66 35.39 38.9 42.36 46.37 48.57 50.56 54.36 58.22 59.89 64.12 66.14 72.07 75.47 78.01 81.95 84.91" y="0" font-size="7.38" class="s">Avg. Job Execution Time(us)</text></g>
<text x="274.8" y="289.2" font-size="10.7" text-anchor="middle" class="c">(e)</text>
<rect x="212.7" y="160" width="38.8" height="40.9" rx="0.8" fill="#fff" fill-opacity="0.8" stroke="#d6d6d6" stroke-width="0.5"/>
<path d="M215.73 164.5H224.67" stroke="#0000ff" stroke-width="1.35"/>
<circle cx="220.2" cy="164.5" r="1.82" fill="#0000ff"/>
<text transform="translate(228.25 167.03) scale(0.811 1)" x="0.18 4.74 8.31" y="0" font-size="5.28" class="l">MET</text>
<path d="M215.73 171.06H224.67" stroke="#cd853f" stroke-width="1.35"/>
<circle cx="220.2" cy="171.06" r="1.82" fill="#cd853f"/>
<text transform="translate(228.25 173.59) scale(0.795 1)" x="0.21 4.25 7.79 11.03" y="0" font-size="5.28" class="l">HEFT</text>
<path d="M215.73 177.62H224.67" stroke="#ffa500" stroke-width="1.35"/>
<circle cx="220.2" cy="177.62" r="1.82" fill="#ffa500"/>
<text transform="translate(228.25 180.15) scale(0.798 1)" x="0.02 3.61 7.63 11.36 15.3" y="0" font-size="5.28" class="l">SCARL</text>
<path d="M215.73 184.18H224.67" stroke="#008000" stroke-width="1.35"/>
<circle cx="220.2" cy="184.18" r="1.82" fill="#008000"/>
<text transform="translate(228.25 186.71) scale(0.912 1)" x="-0.02 3.82 6.82 9.59 11.04 15.67" y="0" font-size="5.28" class="l">Decima</text>
<path d="M215.73 190.74H224.67" stroke="#ff0000" stroke-width="1.35"/>
<circle cx="220.2" cy="190.74" r="1.82" fill="#ff0000"/>
<text transform="translate(228.25 193.27) scale(0.783 1)" x="0.05 3.9 7.21 11.18 15.04 18.44 21.84 25.46" y="0" font-size="5.28" class="l">SoCRATES</text>
<path d="M215.73 197.3H224.67" stroke="#800080" stroke-width="1.35"/>
<circle cx="220.2" cy="197.3" r="1.82" fill="#800080"/>
<text transform="translate(228.25 199.83) scale(0.828 1)" x="0.13 4.75 8.31 11.97" y="0" font-size="5.28" class="l">MASA</text>
<path d="M409.71 160.5V253.5M442.28 160.5V253.5M474.85 160.5V253.5M507.42 160.5V253.5M539.99 160.5V253.5M403.2 241.2H546.5M403.2 227.76H546.5M403.2 214.32H546.5M403.2 200.88H546.5M403.2 187.44H546.5M403.2 174H546.5" stroke="#e0e0e0" stroke-width="0.8" fill="none"/>
<path d="M409.71 223.06 L442.28 214.99 L474.85 213.65 L507.42 167.28 L539.99 165.6 L539.99 168.29 L507.42 169.97 L474.85 214.99 L442.28 216.34 L409.71 224.4Z" fill="#0000ff" fill-opacity="0.2"/>
<path d="M409.71 217.68 L442.28 210.96 L474.85 209.62 L507.42 169.97 L539.99 168.29 L539.99 171.98 L507.42 173.33 L474.85 210.96 L442.28 212.3 L409.71 219.02Z" fill="#cd853f" fill-opacity="0.2"/>
<path d="M409.71 241.87 L442.28 239.18 L474.85 235.15 L507.42 210.29 L539.99 203.57 L539.99 207.6 L507.42 214.32 L474.85 237.84 L442.28 240.53 L409.71 243.22Z" fill="#ffa500" fill-opacity="0.2"/>
<path d="M409.71 237.84 L442.28 235.15 L474.85 229.1 L507.42 197.52 L539.99 182.74 L539.99 185.42 L507.42 200.21 L474.85 230.45 L442.28 236.5 L409.71 239.18Z" fill="#008000" fill-opacity="0.2"/>
<path d="M409.71 241.2 L442.28 238.51 L474.85 237.84 L507.42 207.6 L539.99 202.22 L539.99 204.91 L507.42 210.29 L474.85 239.18 L442.28 239.86 L409.71 242.54Z" fill="#ff0000" fill-opacity="0.2"/>
<path d="M409.71 247.92 L442.28 246.91 L474.85 241.2 L507.42 237.17 L539.99 227.76 L539.99 229.78 L507.42 238.51 L474.85 242.54 L442.28 248.26 L409.71 249.26Z" fill="#800080" fill-opacity="0.2"/>
<path d="M409.71 223.73 L442.28 215.66 L474.85 214.32 L507.42 168.62 L539.99 166.94" stroke="#0000ff" stroke-width="1.31" fill="none" stroke-linejoin="round"/>
<circle cx="409.71" cy="223.73" r="1.76" fill="#0000ff"/><circle cx="442.28" cy="215.66" r="1.76" fill="#0000ff"/><circle cx="474.85" cy="214.32" r="1.76" fill="#0000ff"/><circle cx="507.42" cy="168.62" r="1.76" fill="#0000ff"/><circle cx="539.99" cy="166.94" r="1.76" fill="#0000ff"/>
<path d="M409.71 218.35 L442.28 211.63 L474.85 210.29 L507.42 171.65 L539.99 170.1" stroke="#cd853f" stroke-width="1.31" fill="none" stroke-linejoin="round"/>
<circle cx="409.71" cy="218.35" r="1.76" fill="#cd853f"/><circle cx="442.28" cy="211.63" r="1.76" fill="#cd853f"/><circle cx="474.85" cy="210.29" r="1.76" fill="#cd853f"/><circle cx="507.42" cy="171.65" r="1.76" fill="#cd853f"/><circle cx="539.99" cy="170.1" r="1.76" fill="#cd853f"/>
<path d="M409.71 242.54 L442.28 239.86 L474.85 236.5 L507.42 212.3 L539.99 205.58" stroke="#ffa500" stroke-width="1.31" fill="none" stroke-linejoin="round"/>
<circle cx="409.71" cy="242.54" r="1.76" fill="#ffa500"/><circle cx="442.28" cy="239.86" r="1.76" fill="#ffa500"/><circle cx="474.85" cy="236.5" r="1.76" fill="#ffa500"/><circle cx="507.42" cy="212.3" r="1.76" fill="#ffa500"/><circle cx="539.99" cy="205.58" r="1.76" fill="#ffa500"/>
<path d="M409.71 238.51 L442.28 235.82 L474.85 229.78 L507.42 198.86 L539.99 184.08" stroke="#008000" stroke-width="1.31" fill="none" stroke-linejoin="round"/>
<circle cx="409.71" cy="238.51" r="1.76" fill="#008000"/><circle cx="442.28" cy="235.82" r="1.76" fill="#008000"/><circle cx="474.85" cy="229.78" r="1.76" fill="#008000"/><circle cx="507.42" cy="198.86" r="1.76" fill="#008000"/><circle cx="539.99" cy="184.08" r="1.76" fill="#008000"/>
<path d="M409.71 241.87 L442.28 239.18 L474.85 238.51 L507.42 208.94 L539.99 203.57" stroke="#ff0000" stroke-width="1.31" fill="none" stroke-linejoin="round"/>
<circle cx="409.71" cy="241.87" r="1.76" fill="#ff0000"/><circle cx="442.28" cy="239.18" r="1.76" fill="#ff0000"/><circle cx="474.85" cy="238.51" r="1.76" fill="#ff0000"/><circle cx="507.42" cy="208.94" r="1.76" fill="#ff0000"/><circle cx="539.99" cy="203.57" r="1.76" fill="#ff0000"/>
<path d="M409.71 248.59 L442.28 247.58 L474.85 241.87 L507.42 237.84 L539.99 228.77" stroke="#800080" stroke-width="1.31" fill="none" stroke-linejoin="round"/>
<circle cx="409.71" cy="248.59" r="1.76" fill="#800080"/><circle cx="442.28" cy="247.58" r="1.76" fill="#800080"/><circle cx="474.85" cy="241.87" r="1.76" fill="#800080"/><circle cx="507.42" cy="237.84" r="1.76" fill="#800080"/><circle cx="539.99" cy="228.77" r="1.76" fill="#800080"/>
<rect x="403.2" y="160.5" width="143.3" height="93" fill="none" stroke="#777" stroke-width="0.7"/>
<path d="M409.71 253.5v1.89M442.28 253.5v1.89M474.85 253.5v1.89M507.42 253.5v1.89M539.99 253.5v1.89M403.2 241.2h-1.89M403.2 227.76h-1.89M403.2 214.32h-1.89M403.2 200.88h-1.89M403.2 187.44h-1.89M403.2 174h-1.89" stroke="#777" stroke-width="0.6" fill="none"/>
<text transform="translate(403.39 261.95) scale(0.933 1)" x="0.15 4.57 8.99" y="0" font-size="7.39" class="t">100</text>
<text transform="translate(438.15 261.95) scale(0.933 1)" x="0.15 4.57" y="0" font-size="7.39" class="t">80</text>
<text transform="translate(470.72 261.95) scale(0.933 1)" x="0.15 4.57" y="0" font-size="7.39" class="t">60</text>
<text transform="translate(503.35 261.95) scale(0.933 1)" x="0.15 4.57" y="0" font-size="7.39" class="t">40</text>
<text transform="translate(535.84 261.95) scale(0.933 1)" x="0.15 4.57" y="0" font-size="7.39" class="t">20</text>
<text transform="translate(388.44 244.16) scale(0.933 1)" x="0.15 4.57 8.99" y="0" font-size="7.39" class="t">160</text>
<text transform="translate(388.44 230.72) scale(0.933 1)" x="0.15 4.57 8.99" y="0" font-size="7.39" class="t">180</text>
<text transform="translate(388.44 217.28) scale(0.933 1)" x="0.15 4.57 8.99" y="0" font-size="7.39" class="t">200</text>
<text transform="translate(388.44 203.84) scale(0.933 1)" x="0.15 4.57 8.99" y="0" font-size="7.39" class="t">220</text>
<text transform="translate(388.44 190.4) scale(0.933 1)" x="0.15 4.57 8.99" y="0" font-size="7.39" class="t">240</text>
<text transform="translate(388.44 176.96) scale(0.933 1)" x="0.15 4.57 8.99" y="0" font-size="7.39" class="t">260</text>
<text transform="translate(407.12 158.5) scale(1.085 1)" x="-0.17 6.24 10.97 15.41 17.76 20.67 27.53 32.62 36.06 38.82 43.82 46.45 51.7 55.2 59.86 62.87 65.42 68.26 72.8 75.23 78.11 83.68 89.34 97.67 102.61 106.83 115.12 118.02 123.55" y="0" font-size="9.5" class="s">Real-world profile (TEMP_MIT)</text>
<text transform="translate(447.14 269.6) scale(1.138 1)" x="-0.03 3.91 7.21 10.41 12.41 15.69 17.41 19.72 22.82 24.67 28.19 30.06 32.83 34.77 38.43 42.16 45.36 47.18" y="0" font-size="7.13" class="s">Scale (clk signal)</text>
<g transform="translate(384.6 207) rotate(-90)"><text transform="translate(-46.13 0) scale(1.101 1)" x="-0.45 3.89 7.44 11.15 13.02 14.64 17.2 20.86 24.57 26.37 30.57 34.18 37.57 40.91 44.78 46.91 48.83 52.5 56.22 57.83 61.93 63.88 69.6 72.89 75.34 79.14 82" y="0" font-size="7.13" class="s">Avg. Job Execution Time(us)</text></g>
<text x="463.4" y="289.2" font-size="10.7" text-anchor="middle" class="c">(f)</text>
<rect x="404" y="161.7" width="37.8" height="39.5" rx="0.8" fill="#fff" fill-opacity="0.8" stroke="#d6d6d6" stroke-width="0.5"/>
<path d="M407.09 166.2H415.73" stroke="#0000ff" stroke-width="1.31"/>
<circle cx="411.41" cy="166.2" r="1.76" fill="#0000ff"/>
<text transform="translate(419.18 168.67) scale(0.811 1)" x="0.17 4.57 8.03" y="0" font-size="5.1" class="l">MET</text>
<path d="M407.09 172.5H415.73" stroke="#cd853f" stroke-width="1.31"/>
<circle cx="411.41" cy="172.5" r="1.76" fill="#cd853f"/>
<text transform="translate(419.18 174.97) scale(0.795 1)" x="0.2 4.1 7.52 10.65" y="0" font-size="5.1" class="l">HEFT</text>
<path d="M407.09 178.8H415.73" stroke="#ffa500" stroke-width="1.31"/>
<circle cx="411.41" cy="178.8" r="1.76" fill="#ffa500"/>
<text transform="translate(419.18 181.27) scale(0.798 1)" x="0.02 3.49 7.37 10.97 14.78" y="0" font-size="5.1" class="l">SCARL</text>
<path d="M407.09 185.1H415.73" stroke="#008000" stroke-width="1.31"/>
<circle cx="411.41" cy="185.1" r="1.76" fill="#008000"/>
<text transform="translate(419.18 187.57) scale(0.912 1)" x="-0.02 3.69 6.59 9.26 10.67 15.13" y="0" font-size="5.1" class="l">Decima</text>
<path d="M407.09 191.4H415.73" stroke="#ff0000" stroke-width="1.31"/>
<circle cx="411.41" cy="191.4" r="1.76" fill="#ff0000"/>
<text transform="translate(419.18 193.87) scale(0.783 1)" x="0.05 3.77 6.96 10.8 14.52 17.81 21.09 24.58" y="0" font-size="5.1" class="l">SoCRATES</text>
<path d="M407.09 197.7H415.73" stroke="#800080" stroke-width="1.31"/>
<circle cx="411.41" cy="197.7" r="1.76" fill="#800080"/>
<text transform="translate(419.18 200.17) scale(0.828 1)" x="0.13 4.59 8.03 11.56" y="0" font-size="5.1" class="l">MASA</text>
</g>
</svg>
</body></html>
